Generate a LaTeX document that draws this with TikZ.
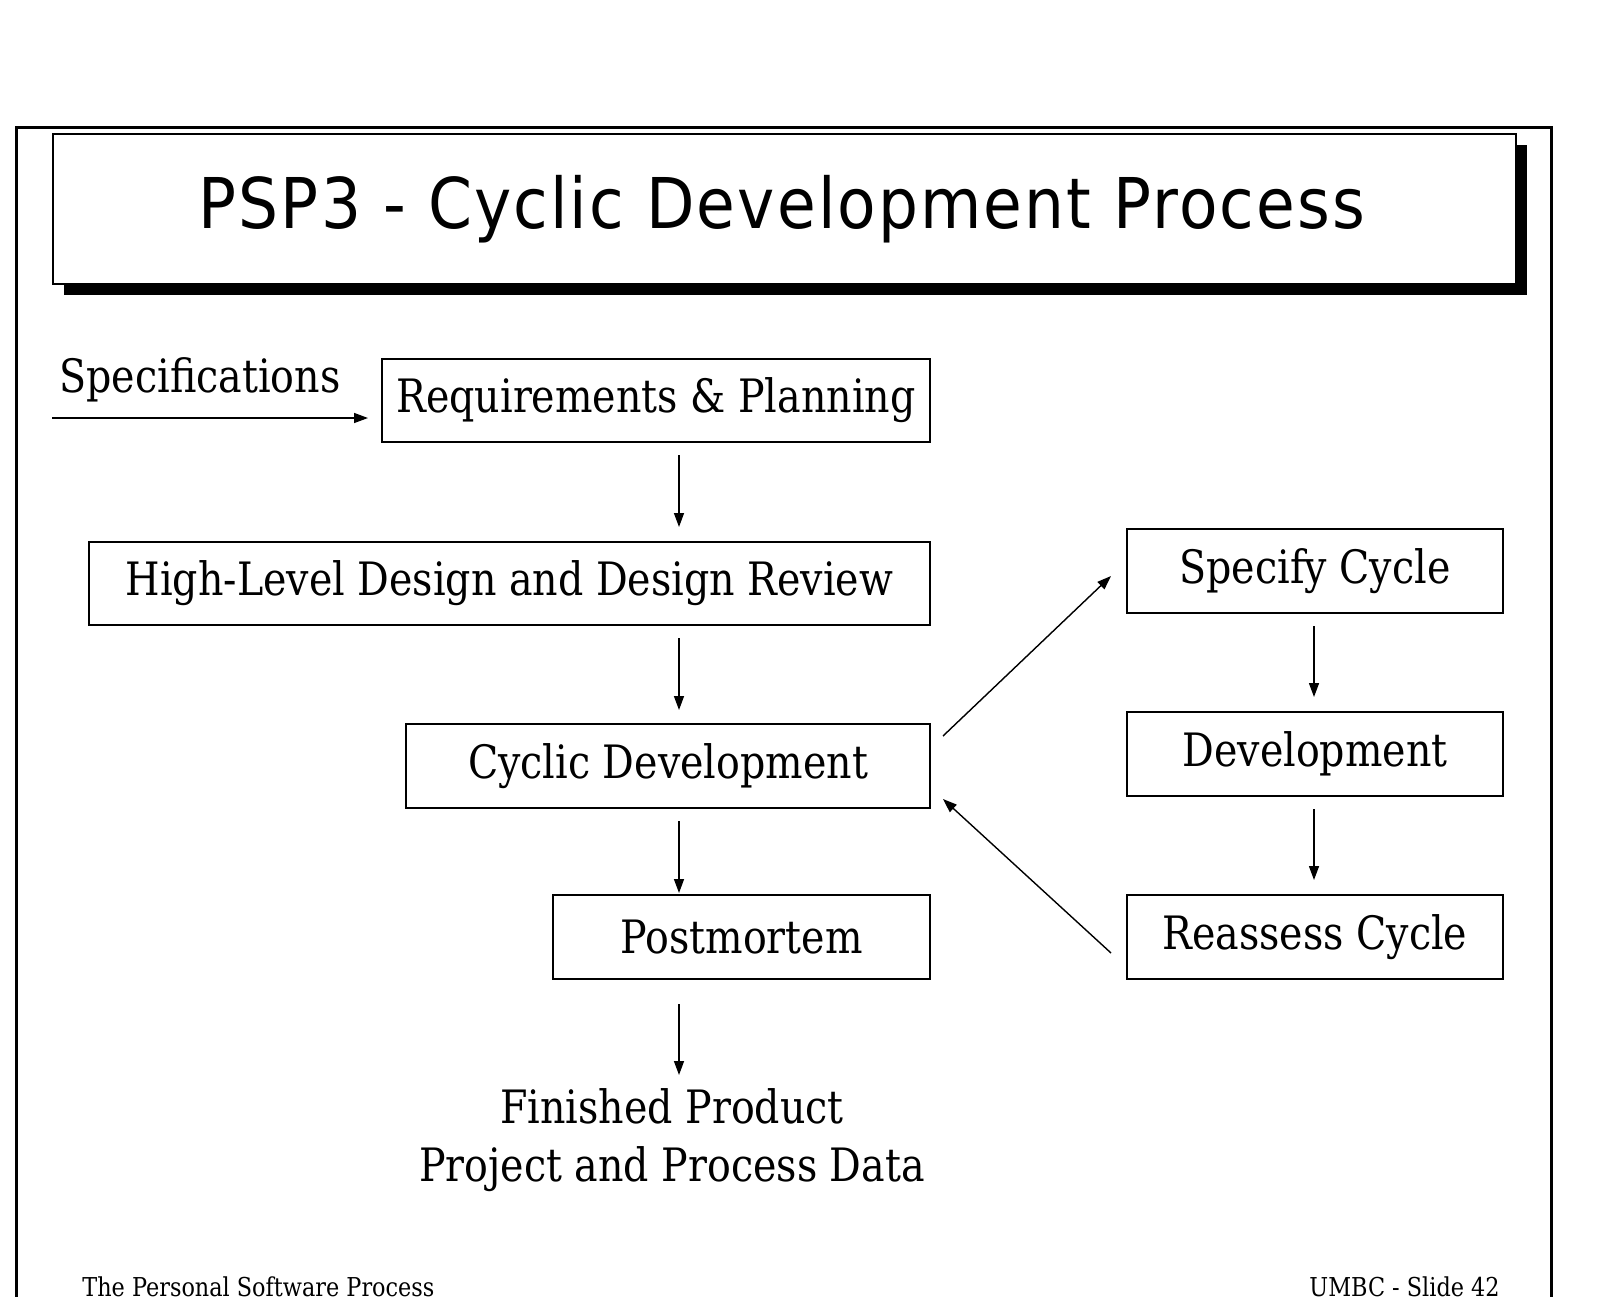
\documentclass[tikz,border=0pt]{standalone}
\usepackage{fontspec}
\setmainfont{DejaVu Serif}[FakeStretch=0.86]
\newfontfamily\titlefont{DejaVu Sans}[FakeStretch=0.9,LetterSpace=3]
\usetikzlibrary{arrows.meta}
\begin{document}
\begin{tikzpicture}[x=0.5pt,y=-0.5pt,
  bx/.style={draw,line width=1pt,inner sep=0pt,font=\fontsize{23}{27}\selectfont},
  lbl/.style={inner sep=0pt,font=\fontsize{23}{27}\selectfont},
  arr/.style={-{Triangle[length=7pt,width=5pt]},line width=0.7pt}]
\useasboundingbox (0,0) rectangle (1606,1296);
\fill[white] (0,0) rectangle (1606,1296);
\draw[line width=1.5pt] (16,1310) -- (16,127) -- (1551,127) -- (1551,1310);
\fill (64,145) rectangle (1527,295);
\node[draw,fill=white,line width=1pt,minimum width=731.5pt,minimum height=75pt,anchor=north west,inner sep=0pt] (title) at (52,133) {};
\node[font=\titlefont\fontsize{35}{40}\selectfont] at (782,209) {PSP3 - Cyclic Development Process};
\node[bx,minimum width=274pt,minimum height=41.5pt,anchor=north west] (req) at (381,358) {Requirements \& Planning};
\node[bx,minimum width=420.5pt,minimum height=41.5pt,anchor=north west] (hld) at (88,541) {High-Level Design and Design Review};
\node[bx,minimum width=262pt,minimum height=42pt,anchor=north west] (cyc) at (405,723) {Cyclic Development};
\node[bx,minimum width=188.5pt,minimum height=42pt,anchor=north west] (pm) at (552,894) {Postmortem};
\node[bx,minimum width=188pt,minimum height=42pt,anchor=north west] (spec) at (1126,528) {Specify Cycle};
\node[bx,minimum width=188pt,minimum height=42pt,anchor=north west] (dev) at (1126,711) {Development};
\node[bx,minimum width=188pt,minimum height=42pt,anchor=north west] (rea) at (1126,894) {Reassess Cycle};
\node[lbl] (specs) at (200,380) {Specifications};
\node[lbl,align=center,font=\fontsize{23}{29}\selectfont] (fin) at (672,1140) {Finished Product\\Project and Process Data};
\node[inner sep=0pt,font=\fontsize{13}{15}\selectfont,anchor=north west] (f1) at (82,1276) {The Personal Software Process};
\node[inner sep=0pt,font=\fontsize{13}{15}\selectfont,anchor=north east] (f2) at (1500,1276) {UMBC - Slide 42};
\coordinate (s0) at (52,418); \coordinate (s1) at (368,418);
\draw[arr] (s0) -- (s1);
\draw[arr] (679,455) -- (679,527);
\draw[arr] (679,638) -- (679,710);
\draw[arr] (679,821) -- (679,893);
\draw[arr] (679,1004) -- (679,1075);
\draw[arr] (1314,626) -- (1314,697);
\draw[arr] (1314,809) -- (1314,880);
\coordinate (d0) at (943,736); \coordinate (d1) at (1111,576);
\coordinate (r0) at (1111,953); \coordinate (r1) at (943,799);
\draw[arr] (d0) -- (d1);
\draw[arr] (r0) -- (r1);
\end{tikzpicture}
\end{document}
